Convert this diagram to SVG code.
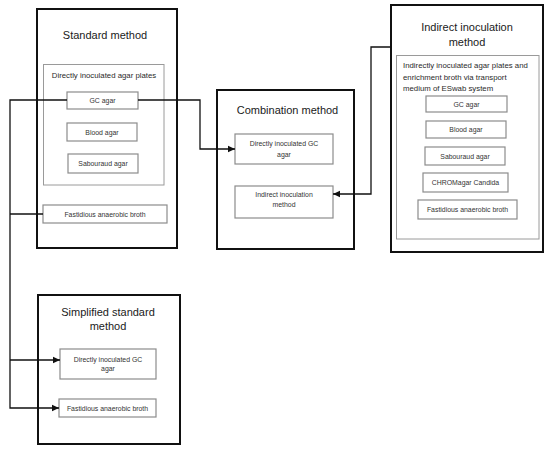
<svg xmlns="http://www.w3.org/2000/svg" width="550" height="453" viewBox="0 0 550 453">
<style>
.outer{fill:#fff;stroke:#111;stroke-width:2}
.inner{fill:none;stroke:#9a9a9a;stroke-width:1}
.box{fill:#fff;stroke:#8c8c8c;stroke-width:1.2}
.title{font-family:"Liberation Sans",Arial,sans-serif;font-size:11px;fill:#1a1a1a;text-anchor:middle}
.hdr{font-family:"Liberation Sans",Arial,sans-serif;font-size:7.8px;fill:#2a2a2a}
.lbl{font-family:"Liberation Sans",Arial,sans-serif;font-size:6.9px;fill:#333;text-anchor:middle}
.conn{fill:none;stroke:#111;stroke-width:1.3}
</style>
<defs>
<marker id="arr" markerUnits="userSpaceOnUse" markerWidth="8" markerHeight="8" refX="7" refY="4" orient="auto">
<path d="M0,0.8 L7,4 L0,7.2 Z" fill="#111"/>
</marker>
</defs>
<g id="standard">
<rect class="outer" x="37" y="9" width="140" height="239"/>
<text class="title" x="105" y="39">Standard method</text>
<rect class="inner" x="43.5" y="64.5" width="120.5" height="120.5"/>
<text class="hdr" x="104" y="78" text-anchor="middle">Directly inoculated agar plates</text>
<rect class="box" x="67" y="92" width="71" height="17"/>
<text class="lbl" x="102.5" y="103">GC agar</text>
<rect class="box" x="67" y="123" width="70" height="18"/>
<text class="lbl" x="102" y="134.5">Blood agar</text>
<rect class="box" x="68" y="154" width="70" height="19"/>
<text class="lbl" x="103" y="166">Sabouraud agar</text>
<rect class="box" x="43" y="205" width="124" height="18"/>
<text class="lbl" x="105" y="216.5">Fastidious anaerobic broth</text>
</g>
<g id="combination">
<rect class="outer" x="217" y="90" width="137" height="159"/>
<text class="title" x="287.5" y="114">Combination method</text>
<rect class="box" x="235" y="134" width="98" height="30"/>
<text class="lbl" x="284" y="145.5">Directly inoculated GC</text>
<text class="lbl" x="284" y="156.5">agar</text>
<rect class="box" x="235" y="186" width="98" height="32"/>
<text class="lbl" x="284" y="196.5">Indirect inoculation</text>
<text class="lbl" x="284" y="207">method</text>
</g>
<g id="indirect">
<rect class="outer" x="391" y="5" width="152" height="247"/>
<text class="title" x="467" y="31">Indirect inoculation</text>
<text class="title" x="467" y="46">method</text>
<rect class="inner" x="396.5" y="55.5" width="142.5" height="183.5"/>
<text class="hdr" x="403" y="68">Indirectly inoculated agar plates and</text>
<text class="hdr" x="403" y="79.5">enrichment broth via transport</text>
<text class="hdr" x="403" y="91">medium of ESwab system</text>
<rect class="box" x="426" y="96" width="81" height="16"/>
<text class="lbl" x="466.5" y="106.5">GC agar</text>
<rect class="box" x="426" y="121" width="80" height="17"/>
<text class="lbl" x="466" y="132">Blood agar</text>
<rect class="box" x="425" y="147" width="80" height="18"/>
<text class="lbl" x="465" y="158.5">Sabouraud agar</text>
<rect class="box" x="423" y="173" width="85" height="19"/>
<text class="lbl" x="465.5" y="185">CHROMagar Candida</text>
<rect class="box" x="418" y="200" width="99" height="19"/>
<text class="lbl" x="467.5" y="212">Fastidious anaerobic broth</text>
</g>
<g id="simplified">
<rect class="outer" x="38" y="295" width="142" height="149"/>
<text class="title" x="108" y="316">Simplified standard</text>
<text class="title" x="108" y="330">method</text>
<rect class="box" x="60" y="349" width="96" height="30"/>
<text class="lbl" x="108" y="361.5">Directly inoculated GC</text>
<text class="lbl" x="108" y="371">agar</text>
<rect class="box" x="59" y="399" width="97" height="18"/>
<text class="lbl" x="107.5" y="410.5">Fastidious anaerobic broth</text>
</g>
<g id="connectors">
<path class="conn" d="M138,100 H200 V149 H235" marker-end="url(#arr)"/>
<path class="conn" d="M391,47 H371 V194 H333" marker-end="url(#arr)"/>
<path class="conn" d="M67,100 H10 V408 H59" marker-end="url(#arr)"/>
<path class="conn" d="M43,214 H10"/>
<path class="conn" d="M10,360 H60" marker-end="url(#arr)"/>
</g>
</svg>
